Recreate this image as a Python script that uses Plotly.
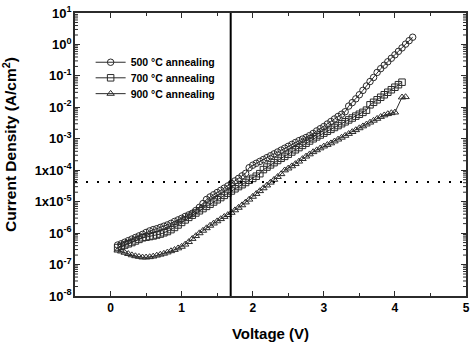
import plotly.graph_objects as go

# ---------------- data ----------------
voltage_500 = [0.10, 0.15, 0.20, 0.25, 0.30, 0.35, 0.40, 0.45, 0.50, 0.55, 0.60, 0.65, 0.70, 0.75,
               0.80, 0.85, 0.90, 0.95, 1.00, 1.05, 1.10, 1.15, 1.20, 1.25, 1.30, 1.35, 1.40, 1.45,
               1.50, 1.55, 1.60, 1.65, 1.70, 1.75, 1.80, 1.85, 1.90, 1.95, 2.00, 2.05, 2.10, 2.15,
               2.20, 2.25, 2.30, 2.35, 2.40, 2.45, 2.50, 2.55, 2.60, 2.65, 2.70, 2.75, 2.80, 2.85,
               2.90, 2.95, 3.00, 3.05, 3.10, 3.15, 3.20, 3.25, 3.30, 3.35, 3.40, 3.45, 3.50, 3.55,
               3.60, 3.65, 3.70, 3.75, 3.80, 3.85, 3.90, 3.95, 4.00, 4.05, 4.10, 4.15, 4.20, 4.25]
log_j_500 = [-6.38, -6.34, -6.29, -6.24, -6.19, -6.14, -6.09, -6.04, -5.98, -5.93, -5.89, -5.86, -5.82, -5.78,
             -5.74, -5.69, -5.63, -5.58, -5.53, -5.47, -5.42, -5.37, -5.28, -5.18, -5.06, -4.93, -4.85, -4.78,
             -4.71, -4.64, -4.57, -4.50, -4.42, -4.34, -4.26, -4.18, -4.10, -3.92, -3.84, -3.78, -3.72, -3.66,
             -3.60, -3.54, -3.48, -3.42, -3.36, -3.30, -3.24, -3.18, -3.12, -3.06, -3.01, -2.96, -2.90, -2.83,
             -2.75, -2.68, -2.61, -2.53, -2.45, -2.37, -2.29, -2.22, -2.14, -1.96, -1.85, -1.73, -1.60, -1.46,
             -1.32, -1.18, -1.05, -0.89, -0.77, -0.66, -0.55, -0.44, -0.33, -0.22, -0.11, 0.01, 0.12, 0.23]

voltage_700 = [0.10, 0.15, 0.20, 0.25, 0.30, 0.35, 0.40, 0.45, 0.50, 0.55, 0.60, 0.65, 0.70, 0.75,
               0.80, 0.85, 0.90, 0.95, 1.00, 1.05, 1.10, 1.15, 1.20, 1.25, 1.30, 1.35, 1.40, 1.45,
               1.50, 1.55, 1.60, 1.65, 1.70, 1.75, 1.80, 1.85, 1.90, 1.95, 2.00, 2.05, 2.10, 2.15,
               2.20, 2.25, 2.30, 2.35, 2.40, 2.45, 2.50, 2.55, 2.60, 2.65, 2.70, 2.75, 2.80, 2.85,
               2.90, 2.95, 3.00, 3.05, 3.10, 3.15, 3.20, 3.25, 3.30, 3.35, 3.40, 3.45, 3.50, 3.55,
               3.60, 3.65, 3.70, 3.75, 3.80, 3.85, 3.90, 3.95, 4.00, 4.05, 4.10]
log_j_700 = [-6.46, -6.42, -6.38, -6.34, -6.30, -6.25, -6.20, -6.15, -6.13, -6.11, -6.09, -6.06, -6.03, -5.99,
             -5.95, -5.89, -5.82, -5.74, -5.66, -5.58, -5.50, -5.43, -5.36, -5.29, -5.22, -5.15, -5.08, -5.01,
             -4.94, -4.87, -4.80, -4.73, -4.66, -4.59, -4.52, -4.46, -4.39, -4.32, -4.26, -4.19, -4.11, -3.98,
             -3.90, -3.83, -3.76, -3.69, -3.62, -3.56, -3.49, -3.42, -3.35, -3.28, -3.21, -3.14, -3.07, -3.00,
             -2.94, -2.88, -2.82, -2.76, -2.70, -2.64, -2.58, -2.52, -2.46, -2.40, -2.34, -2.28, -2.22, -2.16,
             -2.09, -1.92, -1.84, -1.76, -1.68, -1.60, -1.52, -1.44, -1.36, -1.28, -1.20]

voltage_900 = [0.10, 0.15, 0.20, 0.25, 0.30, 0.35, 0.40, 0.45, 0.50, 0.55, 0.60, 0.65, 0.70, 0.75,
               0.80, 0.85, 0.90, 0.95, 1.00, 1.05, 1.10, 1.15, 1.20, 1.25, 1.30, 1.35, 1.40, 1.45,
               1.50, 1.55, 1.60, 1.65, 1.70, 1.75, 1.80, 1.85, 1.90, 1.95, 2.00, 2.05, 2.10, 2.15,
               2.20, 2.25, 2.30, 2.35, 2.40, 2.45, 2.50, 2.55, 2.60, 2.65, 2.70, 2.75, 2.80, 2.85,
               2.90, 2.95, 3.00, 3.05, 3.10, 3.15, 3.20, 3.25, 3.30, 3.35, 3.40, 3.45, 3.50, 3.55,
               3.60, 3.65, 3.70, 3.75, 3.80, 3.85, 3.90, 3.95, 4.00, 4.10, 4.15]
log_j_900 = [-6.55, -6.58, -6.62, -6.66, -6.70, -6.73, -6.75, -6.77, -6.77, -6.76, -6.74, -6.71, -6.68, -6.65,
             -6.61, -6.57, -6.53, -6.48, -6.43, -6.36, -6.28, -6.18, -6.09, -6.00, -5.92, -5.84, -5.76, -5.69,
             -5.62, -5.55, -5.48, -5.42, -5.35, -5.27, -5.19, -5.11, -5.02, -4.93, -4.84, -4.75, -4.66, -4.57,
             -4.48, -4.39, -4.30, -4.21, -4.12, -4.00, -3.94, -3.87, -3.80, -3.72, -3.64, -3.56, -3.49, -3.42,
             -3.36, -3.30, -3.24, -3.19, -3.14, -3.08, -3.02, -2.96, -2.90, -2.84, -2.78, -2.72, -2.66, -2.60,
             -2.54, -2.48, -2.42, -2.36, -2.30, -2.25, -2.21, -2.18, -2.16, -1.68, -1.67]

series_names = ["500 °C annealing", "700 °C annealing", "900 °C annealing"]
x_tick_vals = [0, 1, 2, 3, 4, 5]
y_tick_exps = [1, 0, -1, -2, -3, -4, -5, -6, -7, -8]
y_tick_text = ["10<sup>1</sup>", "10<sup>0</sup>", "10<sup>-1</sup>", "10<sup>-2</sup>", "10<sup>-3</sup>",
               "1x10<sup>-4</sup>", "1x10<sup>-5</sup>", "10<sup>-6</sup>", "10<sup>-7</sup>", "10<sup>-8</sup>"]
ref_voltage = 1.69          # vertical reference line (V)
ref_current = 4.2e-5        # horizontal reference line (A/cm^2)

# ---------------- figure ----------------
INK = "#2b2b2b"
FONT = "Liberation Sans"

fig = go.Figure()
symbols = ["circle-open", "square-open", "triangle-up-open"]
legend_ids = ["legend", "legend2", "legend3"]
for name, vx, ly, sym, lg in zip(series_names,
                                 [voltage_500, voltage_700, voltage_900],
                                 [log_j_500, log_j_700, log_j_900],
                                 symbols, legend_ids):
    fig.add_trace(go.Scatter(
        x=vx, y=[10 ** v for v in ly], name=name, mode="lines+markers", legend=lg,
        line=dict(color=INK, width=1),
        marker=dict(symbol=sym, size=6.5, color=INK, line=dict(width=1, color=INK)),
    ))

# reference lines
fig.add_shape(type="line", xref="x", yref="paper", x0=ref_voltage, x1=ref_voltage, y0=0, y1=1,
              line=dict(color="black", width=2))
fig.add_shape(type="line", xref="paper", yref="y", x0=0, x1=1, y0=ref_current, y1=ref_current,
              line=dict(color="black", width=2, dash="2px,9px"))

# minor log ticks (2..9 x 10^k) on left and right frame, inside
minor_vals = [m * 10 ** e for e in range(-8, 1) for m in range(2, 10)]
MINOR_FRAC = 3 / 395
for v in minor_vals:
    for a, b in ((0, MINOR_FRAC), (1 - MINOR_FRAC, 1)):
        fig.add_shape(type="line", xref="x domain", yref="y", x0=a, x1=b, y0=v, y1=v,
                      line=dict(color=INK, width=1), layer="above")

axis_font = dict(family=FONT, size=13, color="black", weight="bold")
legend_font = dict(family=FONT, size=10.5, color="black", weight="bold")


def legend_box(ypos):
    return dict(x=0.04, y=ypos, xanchor="left", yanchor="middle", font=legend_font,
                bgcolor="rgba(0,0,0,0)", itemwidth=30)


fig.add_annotation(text="Current Density (A/cm<sup>2</sup>)", textangle=-90,
                   xref="paper", yref="paper", x=-0.168, y=0.535, xanchor="center", yanchor="middle",
                   showarrow=False, font=dict(family=FONT, size=15.5, color="black", weight="bold"))

fig.update_layout(
    width=474, height=344,
    margin=dict(l=75, r=4, t=8, b=48),
    paper_bgcolor="white", plot_bgcolor="white",
    font=dict(family=FONT, color="black"),
    showlegend=True,
    legend=legend_box(0.826),
    legend2=legend_box(0.771),
    legend3=legend_box(0.715),
    xaxis=dict(range=[-0.5, 5], tickvals=x_tick_vals, ticks="inside", ticklen=5, tickwidth=1,
               tickcolor=INK, showline=True, linecolor=INK, linewidth=1.5, mirror="ticks",
               showgrid=False, zeroline=False, tickfont=dict(family=FONT, size=12, color="black", weight="bold"),
               minor=dict(dtick=0.5, tick0=0, ticks="inside", ticklen=3, tickcolor=INK, showgrid=False),
               title=dict(text="Voltage (V)", font=dict(family=FONT, size=15, color="black", weight="bold"),
                          standoff=14)),
    yaxis=dict(type="log", range=[-8.0005, 1.0005], tickvals=[10 ** e for e in y_tick_exps],
               ticktext=y_tick_text, ticklabeloverflow="allow", ticklabelstandoff=-1,
               ticks="inside", ticklen=5, tickwidth=1, tickcolor=INK, showline=True, linecolor=INK,
               linewidth=1.5, mirror="ticks", showgrid=False, zeroline=False, tickfont=axis_font),
)

fig.write_html("out.html")
